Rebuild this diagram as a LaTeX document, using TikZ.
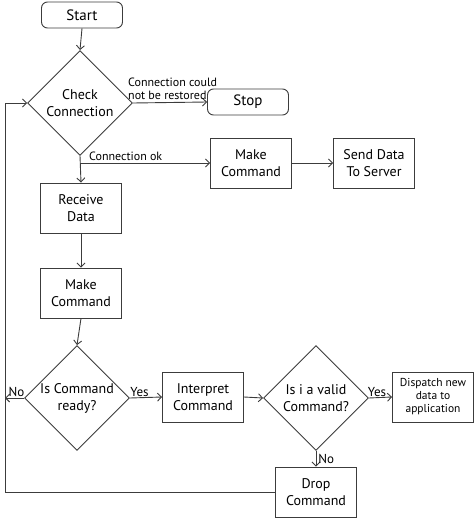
\documentclass[tikz,border=0pt]{standalone}
\usepackage{fontspec}
\setmainfont{PT Sans}
\usetikzlibrary{arrows.meta,positioning,calc,shapes.geometric}
\definecolor{flowline}{RGB}{60,60,60}

\begin{document}
\begin{tikzpicture}[x=1pt,y=-1pt,
  font=\fontsize{14}{17}\selectfont,
  box/.style={draw=flowline,line width=0.9pt,align=center,inner sep=0pt,
    minimum width=81pt,minimum height=50pt},
  term/.style={box,rounded corners=6pt,minimum height=26pt,
    font=\fontsize{15}{16}\selectfont},
  decide/.style={diamond,draw=flowline,line width=0.9pt,align=center,
    inner sep=0pt,minimum width=105pt,minimum height=105pt},
  arr/.style={-{Straight Barb[length=4pt,width=8pt]},draw=flowline,
    line width=0.9pt},
  lbl/.style={font=\fontsize{12}{13}\selectfont,inner sep=1pt}]

\useasboundingbox (0,0) rectangle (474,519);

\node[term] (start) at (82,15) {Start};
\node[decide] (check) at (80,103) {Check\\Connection};
\node[term] (stop) at (248,102) {Stop};
\node[box] (makecmdA) at (251,163) {Make\\Command};
\node[box] (send) at (374,163) {Send Data\\To Server};
\node[box] (receive) at (81,208) {Receive\\Data};
\node[box] (makecmd) at (81,293) {Make\\Command};
\node[decide] (ready) at (77,398) {Is Command\\ready?};
\node[box] (interp) at (203,397) {Interpret\\Command};
\node[decide] (valid) at (316,398) {Is i a valid\\Command?};
\node[box,font=\fontsize{11.5}{13}\selectfont] (dispatch) at (433,397)
  {Dispatch new\\data to\\application};
\node[box] (drop) at (316,492) {Drop\\Command};

\coordinate (okpt) at (check.south |- makecmdA.west);
\coordinate (loopbot) at (5,0 |- drop.west);
\coordinate (looptop) at (5,0 |- check.west);
\coordinate (loopno) at (5,0 |- ready.west);

\draw[arr] (start.south) -- (check.north);
\draw[arr] (check.east) -- (stop.west);
\node[lbl,anchor=south west,align=left] at (127,101)
  {Connection could\\not be restored};
\draw[arr] (check.south) -- (receive.north);
\draw[arr] (okpt) -- (makecmdA.west);
\node[lbl,anchor=south west] at (88,162) {Connection ok};
\draw[arr] (makecmdA.east) -- (send.west);
\draw[arr] (receive.south) -- (makecmd.north);
\draw[arr] (makecmd.south) -- (ready.north);
\draw[arr] (ready.east) -- (interp.west)
  node[lbl,pos=0.3,above,font=\fontsize{13}{14}\selectfont] {Yes};
\draw[arr] (interp.east) -- (valid.west);
\draw[arr] (valid.east) -- (dispatch.west)
  node[lbl,pos=0.35,above,font=\fontsize{13}{14}\selectfont] {Yes};
\draw[arr] (valid.south) -- (drop.north)
  node[lbl,midway,right=1pt,font=\fontsize{13}{14}\selectfont] {No};
% dropped commands go back to the connection check
\draw[arr] (drop.west) -- (loopbot) -- (looptop) -- (check.west);
\draw[arr] (ready.west) -- (loopno)
  node[lbl,pos=0.4,above,font=\fontsize{13}{14}\selectfont] {No};
\end{tikzpicture}
\end{document}
